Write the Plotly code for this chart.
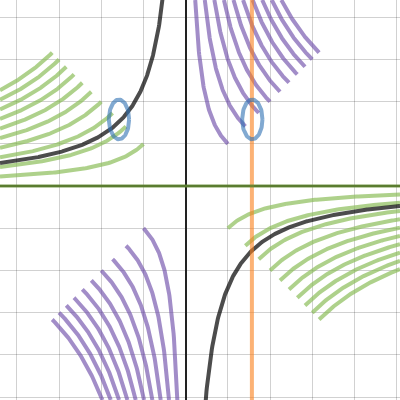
import numpy as np
import plotly.graph_objects as go

# hyperbola constants for the families (y = k/x)
k_family = [1, 2, 3, 4, 5, 6, 7, 8, 9, 10]
k_main = 2.4
asymptote_x = 1.57
asymptote_y = 0.0
ellipse_centers = [(-1.58, 1.58), (1.58, 1.58)]
ellipse_radii = (0.24, 0.47)

x_range = [-4.40, 5.08]
y_range = [-5.07, 4.41]

purple = "rgba(112,80,170,0.65)"
green = "rgba(140,190,90,0.7)"
fig = go.Figure()

def add_curve(x, y, color, width=4):
    fig.add_trace(go.Scatter(x=x, y=y, mode="lines", line=dict(color=color, width=width),
                             hoverinfo="skip", showlegend=False))

for k in k_family:
    end = np.sqrt(k)
    # purple quadrant 1: from top edge down to the y=x line
    x = np.linspace(k / y_range[1], end, 100)
    add_curve(x, k / x, purple)
    # purple quadrant 3: from bottom edge up to the y=x line
    x = np.linspace(k / y_range[0], -end, 100)
    add_curve(x, k / x, purple)
    # green quadrant 2: from left edge to the y=-x line
    x = np.linspace(x_range[0], -end, 100)
    add_curve(x, -k / x, green)
    # green quadrant 4: from the y=-x line to right edge
    x = np.linspace(end, x_range[1], 100)
    add_curve(x, -k / x, green)

# main black hyperbola
x = np.linspace(x_range[0], -0.01, 400)
add_curve(x, -k_main / x, "rgba(0,0,0,0.7)")
x = np.linspace(0.01, x_range[1], 400)
add_curve(x, -k_main / x, "rgba(0,0,0,0.7)")

# asymptotes
add_curve([asymptote_x, asymptote_x], y_range, "rgba(250,126,25,0.6)", 4)
add_curve(x_range, [asymptote_y, asymptote_y], "rgba(100,140,50,0.85)", 3)

# ellipses
t = np.linspace(0, 2 * np.pi, 100)
for cx, cy in ellipse_centers:
    add_curve(cx + ellipse_radii[0] * np.cos(t), cy + ellipse_radii[1] * np.sin(t),
              "rgba(45,112,179,0.6)", 4)

axis_style = dict(showticklabels=False, dtick=1, tick0=0, gridcolor="rgba(0,0,0,0.18)",
                  gridwidth=1, zeroline=True, zerolinecolor="#222", zerolinewidth=1.5,
                  showline=False)
fig.update_xaxes(range=x_range, **axis_style)
fig.update_yaxes(range=y_range, **axis_style)
fig.update_layout(width=400, height=400, margin=dict(l=0, r=0, t=0, b=0),
                  plot_bgcolor="white", paper_bgcolor="white")
fig.write_html("out.html", config={"displayModeBar": False},
               post_script="document.body.style.margin='0';")
